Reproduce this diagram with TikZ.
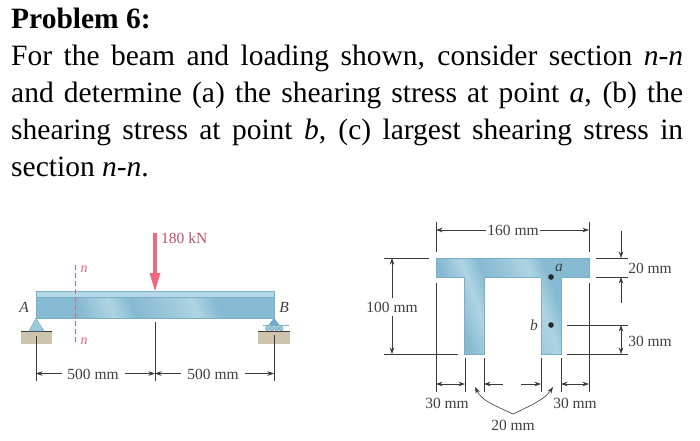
\documentclass[tikz,border=0pt]{standalone}
\usepackage{fontspec}
\setmainfont{Liberation Serif}
\usetikzlibrary{arrows.meta}
\definecolor{beamdark}{HTML}{86BAD2}
\definecolor{beammid}{HTML}{98C5D9}
\definecolor{beamlight}{HTML}{AFD4E3}
\definecolor{beamedge}{HTML}{7AAFC8}
\definecolor{flangetop}{HTML}{B4D8E6}
\definecolor{loadred}{HTML}{F0677F}
\definecolor{cutred}{HTML}{E0628A}
\definecolor{dimgray}{HTML}{3A3A3A}
\definecolor{soil}{HTML}{CDC4AD}
\definecolor{pinblue}{HTML}{9CC8DC}
\definecolor{rollerblue}{HTML}{6FA9CF}
\pgfdeclarehorizontalshading{beamshade}{100bp}{color(0bp)=(beamdark); color(30bp)=(beamdark); color(38bp)=(beamlight); color(44bp)=(beamdark); color(52bp)=(beammid); color(60bp)=(beamlight); color(66bp)=(beamdark); color(100bp)=(beamdark)}
\tikzset{
	dimline/.style={line width=0.6pt, color=dimgray},
	dimarrow/.style={dimline, -{Stealth[length=6.5pt, width=4.5pt]}},
	steelface/.style={draw=beamedge, line width=0.6pt, shading=beamshade, shading angle=20},
	dimtext/.style={font=\fontsize{15.5}{17}\selectfont, text=black!75, inner sep=0pt},
	slanttext/.style={dimtext, font=\fontsize{15.5}{17}\selectfont\itshape},
	cuttext/.style={dimtext, text=cutred, font=\fontsize{14}{16}\selectfont\itshape},
	pagetext/.style={font=\fontsize{29.5}{37}\selectfont, inner sep=0pt, anchor=base west}
}
\begin{document}
\begin{tikzpicture}[x=1pt, y=-1pt]
	\useasboundingbox (0, 0) rectangle (700, 440);
	%%%%% TEXT %%%%%
	\node[pagetext] (title) at (11, 28.5) {\bfseries Problem 6:};
	\node[pagetext, text width=672pt, align=justify] (body) at (11, 65) {For the beam and loading shown, consider section \textit{n-n}\linebreak and determine (a) the shearing stress at point \textit{a}, (b) the\linebreak shearing stress at point \textit{b}, (c) largest shearing stress in\linebreak section \textit{n-n}.};

	%%%%% BEAM %%%%%
	\fill[soil] (21, 331) rectangle (52, 344);
	\fill[soil] (258, 331) rectangle (290, 344);
	\draw[dimgray, line width=0.5pt] (21, 331) -- (52, 331);
	\draw[dimgray, line width=0.5pt] (258, 331) -- (290, 331);
	\draw[beamedge, fill=pinblue] (36, 318) -- (29, 331) -- (44, 331) -- cycle;
	\draw[beamedge, fill=rollerblue] (274, 318) -- (268, 326) -- (280, 326) -- cycle;
	\draw[beamedge] (263, 325.5) -- (289, 325.5);
	\foreach \x in {267.5, 272, 276.5, 281}
		\draw[color=black!30!green!50!blue!60, fill=pinblue, line width=0.4pt] (\x, 328.5) circle (2.2);

	\path[steelface] (36, 291) rectangle (274, 318);
	\draw[beamedge, line width=0.6pt, fill=flangetop] (36, 291) rectangle (274, 297);

	\draw[cutred, line width=0.6pt, dash pattern=on 5pt off 3pt] (75, 265) -- (75, 345);
	\node[cuttext] (ntop) at (84, 269) {n};
	\node[cuttext] (nbot) at (84, 341) {n};

	\draw[loadred, line width=3.4pt] (155, 233) -- (155, 275);
	\fill[loadred] (155, 291) -- (149.5, 273) -- (160.5, 273) -- cycle;
	\node[dimtext, text=loadred!80!black, anchor=west] (load) at (161, 238) {180 kN};

	\node[slanttext] (A) at (24, 307) {A};
	\node[slanttext] (B) at (284, 307) {B};

	\draw[dimline] (36, 336) -- (36, 381);
	\draw[dimline] (155, 322) -- (155, 381);
	\draw[dimline] (274, 335) -- (274, 381);
	\node[dimtext] (spanl) at (93, 374) {500 mm};
	\node[dimtext] (spanr) at (213, 374) {500 mm};
	\draw[dimarrow] (62, 373.5) -- (36, 373.5);
	\draw[dimarrow] (125, 373.5) -- (155, 373.5);
	\draw[dimarrow] (181, 373.5) -- (155, 373.5);
	\draw[dimarrow] (245, 373.5) -- (274, 373.5);

	%%%%% SECTION %%%%%
	\path[steelface] (436, 258) -- (589, 258) -- (589, 277) -- (561, 277) -- (561, 354) -- (541, 354) -- (541, 277) -- (484, 277) -- (484, 354) -- (464, 354) -- (464, 277) -- (436, 277) -- cycle;
	\fill[black!85] (551, 277) circle (2.8);
	\fill[black!85] (551, 325) circle (2.8);
	\node[slanttext] (pta) at (559, 268) {a};
	\node[slanttext] (ptb) at (534, 325) {b};

	% top width
	\draw[dimline] (436, 222) -- (436, 252);
	\draw[dimline] (589, 222) -- (589, 252);
	\node[dimtext] (w160) at (513, 230.5) {160 mm};
	\draw[dimarrow] (486, 230) -- (436, 230);
	\draw[dimarrow] (540, 230) -- (589, 230);

	% total height
	\draw[dimline] (384, 258) -- (429, 258);
	\draw[dimline] (384, 354) -- (458, 354);
	\node[dimtext] (h100) at (392, 307) {100 mm};
	\draw[dimarrow] (392, 298) -- (392, 258);
	\draw[dimarrow] (392, 316) -- (392, 354);

	% flange and b
	\draw[dimline] (596, 258) -- (628, 258);
	\draw[dimline] (596, 277) -- (628, 277);
	\draw[dimarrow] (621, 231) -- (621, 258);
	\draw[dimarrow] (621, 303) -- (621, 277);
	\node[dimtext] (t20) at (650, 268.5) {20 mm};
	\draw[dimline] (567, 325) -- (628, 325);
	\draw[dimline] (567, 354) -- (628, 354);
	\draw[dimarrow] (621, 340) -- (621, 325);
	\draw[dimarrow] (621, 340) -- (621, 354);
	\node[dimtext] (b30) at (650, 341) {30 mm};

	% bottom widths
	\draw[dimline] (436, 283) -- (436, 392);
	\draw[dimline] (589, 283) -- (589, 392);
	\foreach \x in {465, 484, 541, 561}
		\draw[dimline] (\x, 358) -- (\x, 392);
	\draw[dimarrow] (450, 384) -- (436, 384);
	\draw[dimarrow] (450, 384) -- (465, 384);
	\draw[dimarrow] (503, 384) -- (484, 384);
	\draw[dimarrow] (521, 384) -- (541, 384);
	\draw[dimarrow] (575, 384) -- (561, 384);
	\draw[dimarrow] (575, 384) -- (589, 384);
	\node[dimtext] (wl) at (447, 403) {30 mm};
	\node[dimtext] (wr) at (575, 403) {30 mm};
	\node[dimtext] (wm) at (513, 425) {20 mm};
	\coordinate (fork) at (513, 414);
	\draw[dimarrow] (fork) .. controls (494, 405) and (482, 401) .. (475, 387);
	\draw[dimarrow] (fork) .. controls (532, 405) and (545, 399) .. (553, 387);
\end{tikzpicture}
\end{document}
